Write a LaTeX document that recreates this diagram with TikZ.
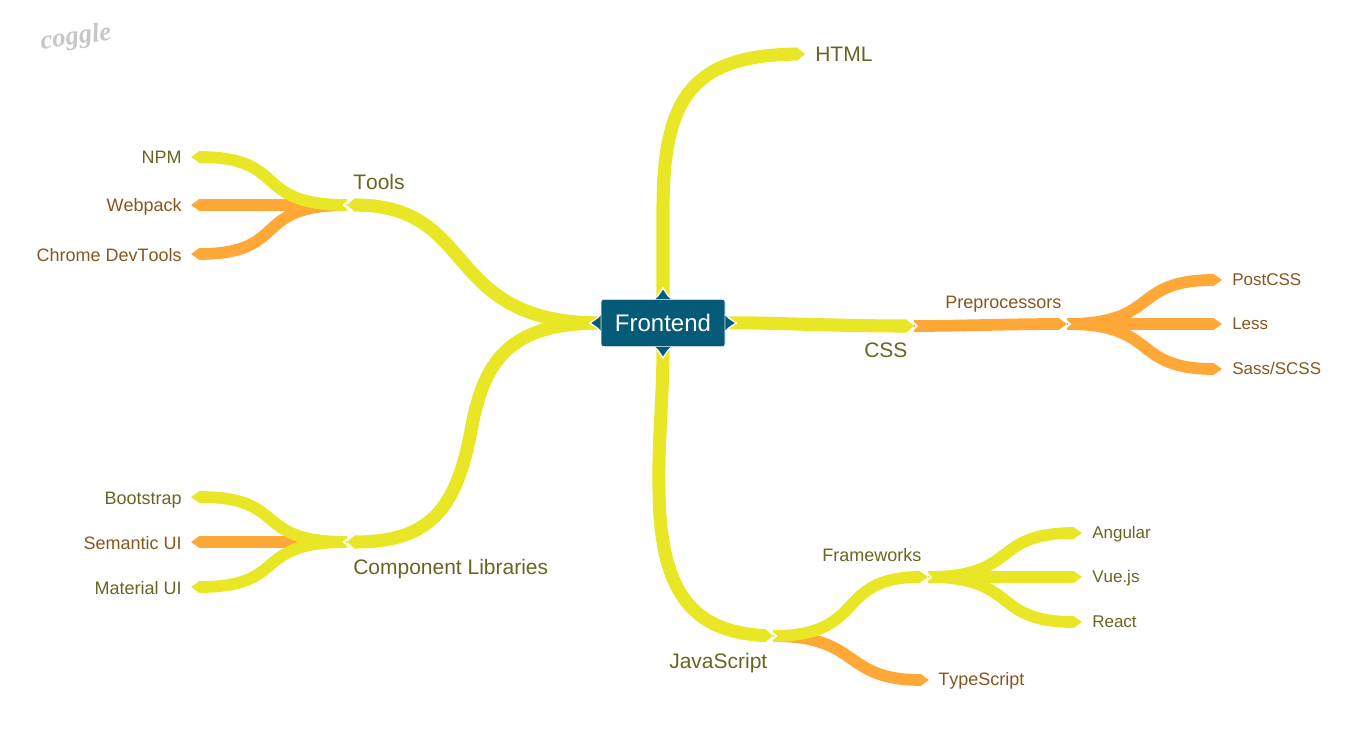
\documentclass[tikz,border=0pt]{standalone}
\usepackage{fontspec}
\setmainfont[Kerning=Off]{Liberation Sans}
\newfontfamily\logofont{Liberation Serif}
\usetikzlibrary{arrows.meta}
\definecolor{branchyellow}{HTML}{E8E625}
\definecolor{branchorange}{HTML}{FFA737}
\definecolor{labelolive}{HTML}{666622}
\definecolor{labelbrown}{HTML}{85571E}
\definecolor{hubblue}{HTML}{055A78}
\definecolor{logogrey}{HTML}{C6C6C6}
\tikzset{
	branch/.style={line width=9.8pt, -{Triangle[length=6pt,width=9.8pt]}},
	twig/.style={line width=8.8pt, -{Triangle[length=6.5pt,width=8.8pt]}},
	leftlabel/.style={anchor=east, inner xsep=6.75pt, inner ysep=0pt, text height=10.5pt, text depth=0pt, font=\fontsize{13.5}{16}\selectfont},
	rightlabel/.style={anchor=west, inner xsep=7.5pt, inner ysep=0pt, text height=7.5pt, text depth=0pt, font=\fontsize{12.75}{15}\selectfont},
	midlabel/.style={anchor=west, inner sep=0pt, text height=9.5pt, text depth=0pt, font=\fontsize{13.5}{16}\selectfont},
	toplabel/.style={anchor=west, inner sep=0pt, text height=11pt, text depth=0pt, font=\fontsize{15.75}{18}\selectfont},
	hub/.style={fill=hubblue, draw=white, rounded corners=2pt, minimum width=93pt, minimum height=35.5pt, inner sep=0pt, text=white, font=\fontsize{18}{21}\selectfont},
	notch/.pic={\draw[white, line width=1.3pt, line join=miter] (5,-7) -- (-3,0) -- (5,7);},
	hubtip/.pic={\draw[white, line width=1.1pt, fill=hubblue] (-9,0) .. controls (-6,-2) .. (0,-11) .. controls (6,-2) .. (9,0);}
}
\begin{document}
\begin{tikzpicture}[x=.75pt, y=-.75pt]
	\useasboundingbox (0,0) rectangle (1360,738);

	% logo
	\node[text=logogrey, rotate=8, font=\logofont\itshape\bfseries\fontsize{20}{22}\selectfont] (logo) at (76,38) {coggle};

	% joints
	\coordinate (toolsjoint) at (347,205);
	\coordinate (libsjoint) at (347,542);
	\coordinate (cssjoint) at (914,326);
	\coordinate (prepjoint) at (1067,324);
	\coordinate (jsjoint) at (773,636);
	\coordinate (fwjoint) at (928,577);

	\node[hub] (frontend) at (663,323) {Frontend};

	% labels
	\node[toplabel, text=labelolive] (html) at (805,54) {\hspace{7.5pt}HTML};
	\node[toplabel, text=labelolive] (tools) at (353,182) {Tools};
	\node[toplabel, text=labelolive] (libs) at (353,567) {Component Libraries};
	\node[toplabel, text=labelolive] (css) at (864,350) {CSS};
	\node[toplabel, text=labelolive] (js) at (669,661) {JavaScript};
	\node[midlabel, text=labelbrown] (prep) at (945,302) {Preprocessors};
	\node[midlabel, text=labelolive] (fw) at (822,555) {Frameworks};

	\node[leftlabel, text=labelolive] (npm) at (191,157) {NPM};
	\node[leftlabel, text=labelbrown] (webpack) at (191,205) {Webpack};
	\node[leftlabel, text=labelbrown] (devtools) at (191,254) {Chrome DevTools};
	\node[leftlabel, text=labelolive] (bootstrap) at (191,497) {Bootstrap};
	\node[leftlabel, text=labelbrown] (semantic) at (191,542) {Semantic UI};
	\node[leftlabel, text=labelolive] (material) at (191,587) {Material UI};

	\node[rightlabel, text=labelbrown] (postcss) at (1222,280) {PostCSS};
	\node[rightlabel, text=labelbrown] (less) at (1222,324) {Less};
	\node[rightlabel, text=labelbrown] (sass) at (1222,369) {Sass/SCSS};
	\node[rightlabel, text=labelolive] (angular) at (1082,533) {Angular};
	\node[rightlabel, text=labelolive] (vue) at (1082,577) {Vue.js};
	\node[rightlabel, text=labelolive] (react) at (1082,622) {React};
	\node[rightlabel, inner xsep=6.75pt, text height=8.5pt, font=\fontsize{13.5}{16}\selectfont, text=labelbrown] (typescript) at (929,680) {TypeScript};

	% leaves
	\draw[twig, branchorange] (toolsjoint) -- (webpack.east);
	\draw[twig, branchorange] (toolsjoint) .. controls (250,205) and (290,254) .. (devtools.east);
	\draw[twig, branchyellow] (toolsjoint) .. controls (250,205) and (290,157) .. (npm.east);

	\draw[twig, branchorange] (libsjoint) -- (semantic.east);
	\draw[twig, branchyellow] (libsjoint) .. controls (250,542) and (290,497) .. (bootstrap.east);
	\draw[twig, branchyellow] (libsjoint) .. controls (250,542) and (290,587) .. (material.east);

	\draw[twig, branchorange] (prepjoint) -- (less.west);
	\draw[twig, branchorange] (prepjoint) .. controls (1160,324) and (1130,280) .. (postcss.west);
	\draw[twig, branchorange] (prepjoint) .. controls (1160,324) and (1130,369) .. (sass.west);

	\draw[twig, branchyellow] (fwjoint) -- (vue.west);
	\draw[twig, branchyellow] (fwjoint) .. controls (1020,577) and (990,533) .. (angular.west);
	\draw[twig, branchyellow] (fwjoint) .. controls (1020,577) and (990,622) .. (react.west);

	\draw[twig, branchorange] (jsjoint) .. controls (862,636) and (841,680) .. (typescript.west);

	% second level
	\draw[twig, branchyellow] (jsjoint) .. controls (868,636) and (834,577) .. (fwjoint);
	\pic at (fwjoint) [rotate=180] {notch};
	\draw[twig, branchorange] (cssjoint) .. controls (960,326) and (1010,324) .. (prepjoint);
	\pic at (prepjoint) [rotate=180] {notch};

	% first level
	\draw[branch, branchyellow] (frontend.north) -- (663,210) .. controls (663,100) and (690,55) .. (html.west);
	\draw[branch, branchyellow] (frontend.west) .. controls (440,323) and (480,205) .. (toolsjoint);
	\pic at (toolsjoint) {notch};
	\draw[branch, branchyellow] (frontend.west) .. controls (510,323) and (485,360) .. (472,425) .. controls (457,510) and (430,542) .. (libsjoint);
	\pic at (libsjoint) {notch};
	\draw[branch, branchyellow] (frontend.east) .. controls (760,322) and (830,326) .. (cssjoint);
	\pic at (cssjoint) [rotate=180] {notch};
	\draw[branch, branchyellow] (frontend.south) .. controls (663,400) and (658,440) .. (659,490) .. controls (660,590) and (690,632) .. (jsjoint);
	\pic at (jsjoint) [rotate=180] {notch};

	% hub on top
	\node[hub] at (frontend) {Frontend};
	\foreach \side/\turn in {north/0, west/90, south/180, east/-90}
		\pic at (frontend.\side) [rotate=\turn] {hubtip};
\end{tikzpicture}
\end{document}
